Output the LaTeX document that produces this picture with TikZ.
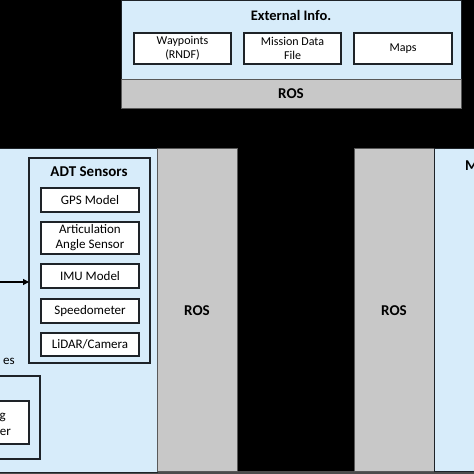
\documentclass[tikz,border=0pt]{standalone}
\usepackage{fontspec}
\setmainfont{Carlito}
\usetikzlibrary{arrows.meta}
\definecolor{lblue}{RGB}{215,236,250}
\definecolor{rosgray}{RGB}{200,200,200}
\definecolor{edge}{RGB}{30,35,40}
\tikzset{
  blk/.style={anchor=north west, inner sep=0pt, outer sep=0pt, draw=edge, line width=0.8pt},
  blueblk/.style={blk, fill=lblue},
  grayblk/.style={blk, fill=rosgray, draw=gray!70!black, font=\fontsize{15}{18}\selectfont\bfseries},
  itembox/.style={draw=edge, line width=1.1pt, fill=white, inner sep=0pt, outer sep=0pt, align=center},
  smalltxt/.style={font=\fontsize{12}{14}\selectfont},
  senstxt/.style={font=\fontsize{13}{15}\selectfont},
  titletxt/.style={font=\fontsize{14.5}{17}\selectfont\bfseries},
  conn/.style={-{Triangle[length=6pt,width=6pt]}, line width=1.2pt, draw=black}
}
\begin{document}
\begin{tikzpicture}[x=1pt,y=-1pt]
\fill[black] (0,0) rectangle (474,474);
\useasboundingbox (0,0) rectangle (474,474);
% bottom gray frame line
\fill[gray!60!black] (0,471) rectangle (474,474);

% External info block
\node[blueblk, minimum width=340pt, minimum height=79pt] (ext) at (121,0) {};
\node[grayblk, minimum width=340pt, minimum height=29pt, anchor=north west] (extros) at (121,79) {};
\node[font=\fontsize{15}{18}\selectfont\bfseries] (extrostxt) at (291,94) {ROS};
\node[titletxt] (exttitle) at (291,15) {External Info.};
\node[itembox, smalltxt, minimum width=97pt, minimum height=31pt] (wp) at (182.5,48.5) {Waypoints\\(RNDF)};
\node[itembox, smalltxt, minimum width=97pt, minimum height=31pt] (mdf) at (292.5,48.5) {Mission Data\\File};
\node[itembox, smalltxt, minimum width=98pt, minimum height=31pt] (maps) at (403,48.5) {Maps};

% Left block
\node[blueblk, minimum width=159pt, minimum height=324pt] (left) at (-2,148) {};
\node[blueblk, line width=1.1pt, minimum width=121pt, minimum height=205pt] (adt) at (29,158) {};
\node[titletxt, font=\fontsize{15}{18}\selectfont\bfseries] (adttitle) at (89,172) {ADT Sensors};
\node[itembox, senstxt, minimum width=98pt, minimum height=24pt] (gps) at (90,200) {GPS Model};
\node[itembox, senstxt, minimum width=98pt, minimum height=32pt] (aas) at (90,238) {Articulation\\Angle Sensor};
\node[itembox, senstxt, minimum width=98pt, minimum height=24pt] (imu) at (90,276) {IMU Model};
\node[itembox, senstxt, minimum width=98pt, minimum height=24pt] (spd) at (90,311) {Speedometer};
\node[itembox, senstxt, minimum width=98pt, minimum height=23pt] (lidar) at (90,344.5) {LiDAR/Camera};
\coordinate (arrin) at (0,282);
\draw[conn] (arrin) -- (arrin -| adt.west);
\node[senstxt, anchor=east, inner sep=0pt] (estxt) at (15,361) {es};

% bottom-left partial box
\node[blk, line width=1.1pt, fill=lblue, minimum width=42pt, minimum height=83pt] (ctrlouter) at (-2,376) {};
\node[itembox, anchor=north west, minimum width=31pt, minimum height=43pt] (ctrl) at (-2,401) {};
\node[senstxt, anchor=east, inner sep=0pt] (ctrlA) at (6,417) {g};
\node[senstxt, anchor=east, inner sep=0pt] (ctrlB) at (11,432) {er};

% ROS columns
\node[grayblk, minimum width=80pt, minimum height=323pt] (ros1) at (157,148) {};
\node[font=\fontsize{15}{18}\selectfont\bfseries] (ros1txt) at (197,311) {ROS};
\node[grayblk, minimum width=80pt, minimum height=323pt] (ros2) at (354,148) {};
\node[font=\fontsize{15}{18}\selectfont\bfseries] (ros2txt) at (394,311) {ROS};

% right partial block
\node[blueblk, minimum width=42pt, minimum height=323pt] (right) at (434,148) {};
\node[font=\fontsize{15}{18}\selectfont\bfseries, anchor=west, inner sep=0pt] (rtitle) at (465,166) {M};
\end{tikzpicture}
\end{document}
